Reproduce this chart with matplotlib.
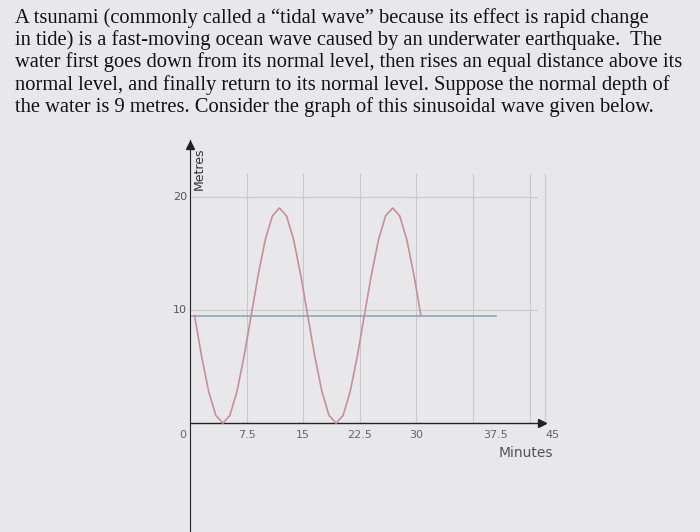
import matplotlib.pyplot as plt

# wave sampled every 0.9375 minutes (sixteenth of a 15-minute period)
minutes = [i * 0.9375 for i in range(33)]
depth = [9.5, 5.9, 2.8, 0.7, 0.0, 0.7, 2.8, 5.9, 9.5, 13.1, 16.2, 18.3, 19.0, 18.3, 16.2, 13.1,
         9.5, 5.9, 2.8, 0.7, 0.0, 0.7, 2.8, 5.9, 9.5, 13.1, 16.2, 18.3, 19.0, 18.3, 16.2, 13.1, 9.5]
normal_x = [0, 40.5]
normal_y = [9.5, 9.5]
x_ticks = [7.5, 15, 22.5, 30, 37.5, 45]
x_labels = ["7.5", "15", "22.5", "30", "37.5", "45"]
y_ticks = [10, 20]

paragraph = [
    "A tsunami (commonly called a \u201ctidal wave\u201d because its effect is rapid change",
    "in tide) is a fast-moving ocean wave caused by an underwater earthquake.  The",
    "water first goes down from its normal level, then rises an equal distance above its",
    "normal level, and finally return to its normal level. Suppose the normal depth of",
    "the water is 9 metres. Consider the graph of this sinusoidal wave given below.",
]

bg = "#e8e8ea"
fig = plt.figure(figsize=(7, 5.32), dpi=100, facecolor=bg)
for i, line in enumerate(paragraph):
    fig.text(0.022, 1 - (18 + i * 22.2) / 532, line, family="Liberation Serif",
             fontsize=14.8, va="center", ha="left", color="#111111")

ax = fig.add_axes([190 / 700, 0, 357 / 700, 392 / 532])
ax.set_facecolor(bg)
ax.set_xlim(0, 47.3)
ax.set_ylim(-9.6, 25)

for x in x_ticks + [x_ticks[-1] + 2]:
    ax.plot([x, x], [0, 22], color="#c8c8cc", lw=0.8, zorder=1)
for y in y_ticks:
    ax.plot([0, 46], [y, y], color="#c8c8cc", lw=0.8, zorder=1)

ax.plot(normal_x, normal_y, color="#8fa5b5", lw=1.2, zorder=2)
ax.plot([m + 0.6 for m in minutes], depth, color="#c98d9c", lw=1.2, zorder=3)

for s in ["top", "right", "bottom"]:
    ax.spines[s].set_visible(False)
ax.spines["left"].set_color("#222222")
ax.axhline(0, color="#222222", lw=1.0, xmax=46.5 / 47.3)
ax.plot(46.6, 0, marker=">", color="#222222", ms=6, clip_on=False)
ax.plot(0, 24.6, marker="^", color="#222222", ms=6, clip_on=False)
ax.set_xticks([])
ax.set_yticks([])

for x, lab in zip(x_ticks, x_labels):
    ax.text(x + (3 if x > 30 else 0), -0.6, lab, ha="center", va="top", fontsize=8, color="#666666")
ax.text(-0.5, -0.6, "0", ha="right", va="top", fontsize=8, color="#666666")
for y in y_ticks:
    ax.text(-0.4, y, str(y), ha="right", va="center", fontsize=8, color="#555555")
ax.text(1.2, 22.5, "Metres", rotation=90, ha="center", va="center", fontsize=9, color="#333333")
ax.text(44.5, -2.0, "Minutes", ha="center", va="top", fontsize=10, color="#555555")

fig.savefig("out.png", dpi=100, facecolor=bg)
